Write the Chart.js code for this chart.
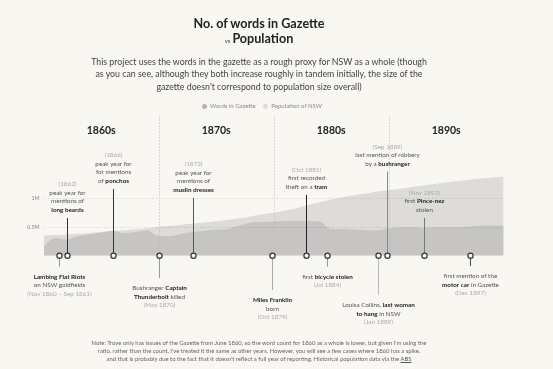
<!DOCTYPE html>
<html>
<head>
<meta charset="utf-8">
<script src="https://cdn.jsdelivr.net/npm/chart.js@4"></script>
<style>
  html, body { margin: 0; padding: 0; background: #f9f7f1; width: 553px; height: 369px; overflow: hidden; font-family: Lato, sans-serif; }
  #wrap { position: relative; width: 553px; height: 369px; }
  canvas { position: absolute; left: 0; top: 0; }
  .txt { position: absolute; left: 0; width: 518px; text-align: center; white-space: nowrap; }
  #t1 { top: 15px; font-size: 12.6px; line-height: 18px; font-weight: bold; color: #222; }
  #t2 { top: 30px; font-size: 12.6px; line-height: 18px; font-weight: bold; color: #222; }
  #t2 small { font-size: 6px; font-weight: normal; color: #444; margin-right: 2px; }
  #sub { top: 55.5px; font-size: 8.8px; line-height: 12.5px; color: #444; }
  #legend { top: 102px; font-size: 6px; line-height: 8px; color: #888; }
  #legend span.dot { display: inline-block; width: 5px; height: 5px; border-radius: 50%; vertical-align: -0.5px; margin: 0 3px 0 6px; }
  #note { top: 338.5px; font-size: 5.9px; line-height: 8px; color: #666; }
  #note u { color: #555; }
</style>
</head>
<body>
<div id="wrap">
  <canvas id="chart" width="553" height="369"></canvas>
  <div class="txt" id="t1">No. of words in Gazette</div>
  <div class="txt" id="t2"><small>vs</small>Population</div>
  <div class="txt" id="sub">This project uses the words in the gazette as a rough proxy for NSW as a whole (though<br>as you can see, although they both increase roughly in tandem initially, the size of the<br>gazette doesn't correspond to population size overall)</div>
  <div class="txt" id="legend"><span class="dot" style="background:#b4b3b1"></span>Words in Gazette <span class="dot" style="background:#dcdbd8"></span>Population of NSW</div>
  <div class="txt" id="note">Note: Trove only has issues of the Gazette from June 1860, so the word count for 1860 as a whole is lower, but given I'm using the<br>ratio, rather than the count, I've treated it the same as other years. However, you will see a few cases where 1860 has a spike,<br>and that is probably due to the fact that it doesn't reflect a full year of reporting. Historical population data via the <u>ABS</u></div>
</div>
<script>
// years 1860 - 1900
var years = [];
for (var yr = 1860; yr <= 1900; yr++) years.push(yr);

// words in gazette (drawn on the same axis, in millions)
var words = [0.16, 0.31, 0.28, 0.34, 0.37, 0.40, 0.43, 0.39, 0.41, 0.44,
             0.34, 0.34, 0.38, 0.41, 0.43, 0.45, 0.46, 0.52, 0.57, 0.58,
             0.59, 0.60, 0.60, 0.60, 0.59, 0.46, 0.46, 0.45, 0.44, 0.44,
             0.47, 0.49, 0.49, 0.48, 0.49, 0.49, 0.49, 0.50, 0.52, 0.52, 0.52];

// population of NSW, millions
var population = [0.349, 0.358, 0.367, 0.379, 0.393, 0.410, 0.427, 0.440, 0.455, 0.474,
                  0.498, 0.518, 0.534, 0.554, 0.573, 0.594, 0.619, 0.646, 0.678, 0.714,
                  0.741, 0.781, 0.820, 0.875, 0.921, 0.970, 1.006, 1.043, 1.073, 1.106,
                  1.132, 1.153, 1.185, 1.209, 1.236, 1.262, 1.288, 1.311, 1.332, 1.350, 1.365];

var yTicks = [0.5, 1];
var yTickLabels = ['0.5M', '1M'];
var decades = ['1860s', '1870s', '1880s', '1890s'];
var decadeStarts = [1860, 1870, 1880, 1890];

// events along the timeline
var eventDates = [1861.36, 1862, 1866, 1870, 1873, 1879.83, 1882.85, 1884.66, 1889.04, 1889.83, 1893.07, 1897.07];
var eventWhen = ['Nov 1860 – Sep 1861', '1862', '1866', 'May 1870', '1873', 'Oct 1879',
                 'Oct 1881', 'Jul 1884', 'Jan 1889', 'Sep 1889', 'Nov 1892', 'Dec 1897'];
var eventText = [
  ['**Lambing Flat Riots**', 'on NSW goldfields'],
  ['peak year for', 'mentions of', '**long beards**'],
  ['peak year for', 'for mentions', 'of **ponchos**'],
  ['Bushranger **Captain**', '**Thunderbolt** killed'],
  ['peak year for', 'mentions of', '**muslin dresses**'],
  ['**Miles Franklin**', 'born'],
  ['first recorded', 'theft on a **tram**'],
  ['first **bicycle stolen**'],
  ['Louisa Collins, **last woman**', '**to hang** in NSW'],
  ['last mention of robbery', 'by a **bushranger**'],
  ['first **Pince-nez**', 'stolen'],
  ['first mention of the', '**motor car** in Gazette']
];

// layout: stem length in px from baseline (negative = up), stem colour
var eventStem = [11, -37.7, -66.7, 22.3, -57.7, 34.3, -60.7, 11, 39.3, -84, -37.7, 10.3];
var stemColor = ['#999', '#333', '#333', '#999', '#555', '#aaa', '#222', '#999', '#bbb', '#888', '#777', '#444'];

var FONT = 'Lato, sans-serif';

function richLine(ctx, line, cx, cy, size, color) {
  var parts = line.split('**');
  var w = 0;
  ctx.textAlign = 'left';
  parts.forEach(function (p, i) {
    ctx.font = (i % 2 ? 'bold ' : '') + size + 'px ' + FONT;
    w += ctx.measureText(p).width;
  });
  var x = cx - w / 2;
  parts.forEach(function (p, i) {
    ctx.font = (i % 2 ? 'bold ' : '') + size + 'px ' + FONT;
    ctx.fillStyle = i % 2 ? '#222' : color;
    ctx.fillText(p, x, cy);
    x += ctx.measureText(p).width;
  });
}

var timeline = {
  id: 'timeline',
  afterDatasetsDraw: function (chart) {
    var ctx = chart.ctx, xs = chart.scales.x, ys = chart.scales.y, area = chart.chartArea;
    var base = ys.getPixelForValue(0);
    ctx.save();
    ctx.textBaseline = 'middle';

    // gridlines + tick labels
    ctx.setLineDash([2, 2]);
    ctx.lineWidth = 0.8;
    ctx.strokeStyle = 'rgba(0,0,0,0.13)';
    yTicks.forEach(function (v, i) {
      var py = Math.round(ys.getPixelForValue(v)) + 0.5;
      ctx.beginPath(); ctx.moveTo(area.left, py); ctx.lineTo(area.right, py); ctx.stroke();
      ctx.font = '5.5px ' + FONT; ctx.fillStyle = '#888'; ctx.textAlign = 'right';
      ctx.fillText(yTickLabels[i], area.left - 4, py);
    });

    // decade dividers and labels
    ctx.setLineDash([1, 2]);
    ctx.strokeStyle = '#b8b8b8';
    ctx.lineWidth = 1;
    decadeStarts.forEach(function (d, i) {
      if (i > 0) {
        var px = Math.round(xs.getPixelForValue(d)) + 0.5;
        ctx.beginPath(); ctx.moveTo(px, area.top); ctx.lineTo(px, base); ctx.stroke();
      }
      ctx.font = 'bold 10.5px ' + FONT; ctx.fillStyle = '#222'; ctx.textAlign = 'center';
      ctx.fillText(decades[i], xs.getPixelForValue(d + 5), 131);
    });
    ctx.setLineDash([]);

    // events
    eventDates.forEach(function (d, i) {
      var px = Math.round(xs.getPixelForValue(d)) + 0.5;
      var s = eventStem[i];
      ctx.strokeStyle = stemColor[i];
      ctx.lineWidth = 1;
      ctx.beginPath(); ctx.moveTo(px, base); ctx.lineTo(px, base + s); ctx.stroke();
      ctx.beginPath(); ctx.arc(px, base, 2.6, 0, Math.PI * 2);
      ctx.fillStyle = '#f9f7f1'; ctx.fill();
      ctx.strokeStyle = '#333'; ctx.lineWidth = 1.2; ctx.stroke();

      var lines = eventText[i].slice();
      var date = '(' + eventWhen[i] + ')';
      var lh = 8.6, size = 6.3;
      if (s < 0) {
        var all = [date].concat(lines);
        var y0 = base + s - 8 - (all.length - 1) * lh;
        all.forEach(function (l, k) {
          richLine(ctx, l, px, y0 + k * lh, size, k === 0 ? '#aaa' : '#555');
        });
      } else {
        var all2 = lines.concat([date]);
        var y1 = base + s + 10;
        all2.forEach(function (l, k) {
          richLine(ctx, l, px, y1 + k * lh, size, k === all2.length - 1 ? '#aaa' : '#555');
        });
      }
    });
    ctx.restore();
  }
};

function pts(vals) {
  return years.map(function (y, i) { return { x: y, y: vals[i] }; });
}

new Chart(document.getElementById('chart').getContext('2d'), {
  type: 'line',
  data: {
    datasets: [
      {
        label: 'Words in Gazette',
        data: pts(words),
        backgroundColor: '#c6c5c3',
        borderWidth: 0,
        pointRadius: 0,
        fill: 'origin',
        cubicInterpolationMode: 'monotone'
      },
      {
        label: 'Population of NSW',
        data: pts(population),
        backgroundColor: '#dddcd9',
        borderWidth: 0,
        pointRadius: 0,
        fill: 'origin',
        cubicInterpolationMode: 'monotone'
      }
    ]
  },
  options: {
    responsive: false,
    animation: false,
    devicePixelRatio: 1,
    layout: { padding: { left: 43.7, right: 49.3, top: 116.5, bottom: 113.3 } },
    plugins: { legend: { display: false }, tooltip: { enabled: false } },
    scales: {
      x: { type: 'linear', min: 1860, max: 1900, display: false },
      y: { min: 0, max: 2.4, display: false }
    }
  },
  plugins: [timeline]
});
</script>
</body>
</html>
